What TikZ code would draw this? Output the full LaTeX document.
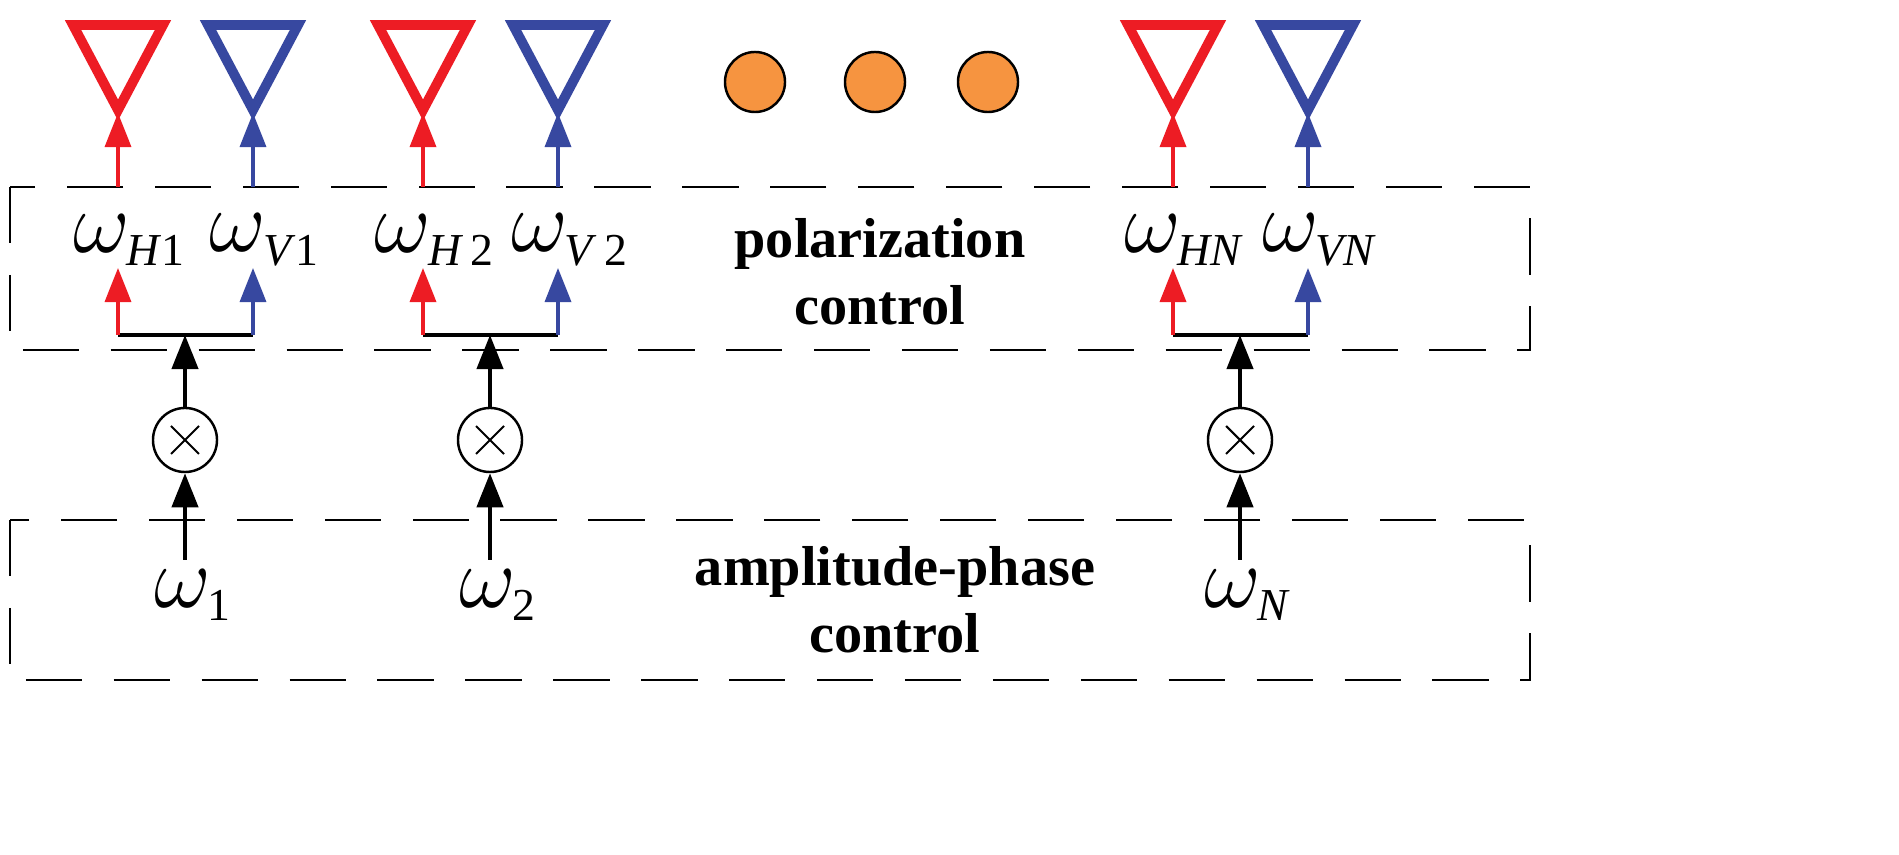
\documentclass[tikz,border=0pt]{standalone}
\usepackage{fontspec}
\setmainfont{Liberation Serif}
\usetikzlibrary{arrows.meta}
\definecolor{ared}{RGB}{237,28,36}
\definecolor{ablue}{RGB}{55,72,160}
\definecolor{aorange}{RGB}{246,148,64}
\newcommand{\sbs}[1]{\mbox{\fontsize{13}{14}\selectfont #1}}
\begin{document}
\begin{tikzpicture}[x=0.01cm,y=-0.01cm,
  ant/.style={line width=2.8pt,line join=miter},
  arr/.style={-{Triangle[width=0.26cm,length=0.34cm]}},
  box/.style={dash pattern=on 16pt off 9pt,line width=0.8pt},
  lbl/.style={font=\fontsize{16}{19}\selectfont\bfseries,align=center},
  om/.style={font=\fontsize{24}{26}\selectfont},
  mul/.style={circle,draw,line width=0.7pt,minimum size=0.64cm,inner sep=0pt}]
\useasboundingbox (0,0) rectangle (1899,855);
\draw[box] (10,187) rectangle (1530,350);
\draw[box] (10,520) rectangle (1530,680);
\foreach \g/\c/\hl/\vl/\ol in {1/185/\textit{H}1/\textit{V}1/1,2/490/\textit{H}\,2/\textit{V}\,2/2,3/1240/\textit{HN}/\textit{VN}/\textit{N}}{
  \pgfmathsetmacro{\xr}{\c-67}
  \pgfmathsetmacro{\xb}{\c+68}
  \draw[ant,ared] (\xr-45,25) -- (\xr+45,25) -- (\xr,110) -- cycle;
  \draw[ant,ablue] (\xb-45,25) -- (\xb+45,25) -- (\xb,110) -- cycle;
  \coordinate (rb\g) at (\xr,187); \coordinate (rt\g) at (\xr,113);
  \coordinate (bb\g) at (\xb,187); \coordinate (bt\g) at (\xb,113);
  \draw[arr,ared,line width=1pt] (rb\g) -- (rt\g);
  \draw[arr,ablue,line width=1pt] (bb\g) -- (bt\g);
  \node[om] (wh\g) at (\xr+12,240) {$\omega_{\sbs{\hl}}$};
  \node[om] (wv\g) at (\xb+12,240) {$\omega_{\sbs{\vl}}$};
  \coordinate (jr\g) at (\xr,335); \coordinate (jb\g) at (\xb,335);
  \coordinate (jc\g) at (\c,335);
  \coordinate (ra\g) at (\xr,268); \coordinate (ba\g) at (\xb,268);
  \draw[line width=1pt] (jr\g) -- (jb\g);
  \draw[arr,ared,line width=1pt] (jr\g) -- (ra\g);
  \draw[arr,ablue,line width=1pt] (jb\g) -- (ba\g);
  \node[mul] (m\g) at (\c,440) {};
  \draw[line width=0.6pt] (\c-14,426) -- (\c+14,454) (\c-14,454) -- (\c+14,426);
  \draw[arr,line width=1.2pt] (m\g) -- (jc\g);
  \node[om] (w\g) at (\c+8,595) {$\omega_{\sbs{\ol}}$};
  \coordinate (wt\g) at (\c,560);
  \draw[arr,line width=1.2pt] (wt\g) -- (m\g);
}
\foreach \x/\n in {755/o1,875/o2,988/o3}
  \node[circle,fill=aorange,draw,line width=0.7pt,minimum size=0.6cm] (\n) at (\x,82) {};
\node[lbl] (pc) at (880,272) {polarization\\control};
\node[lbl] (ac) at (895,600) {amplitude-phase\\control};
\end{tikzpicture}
\end{document}
